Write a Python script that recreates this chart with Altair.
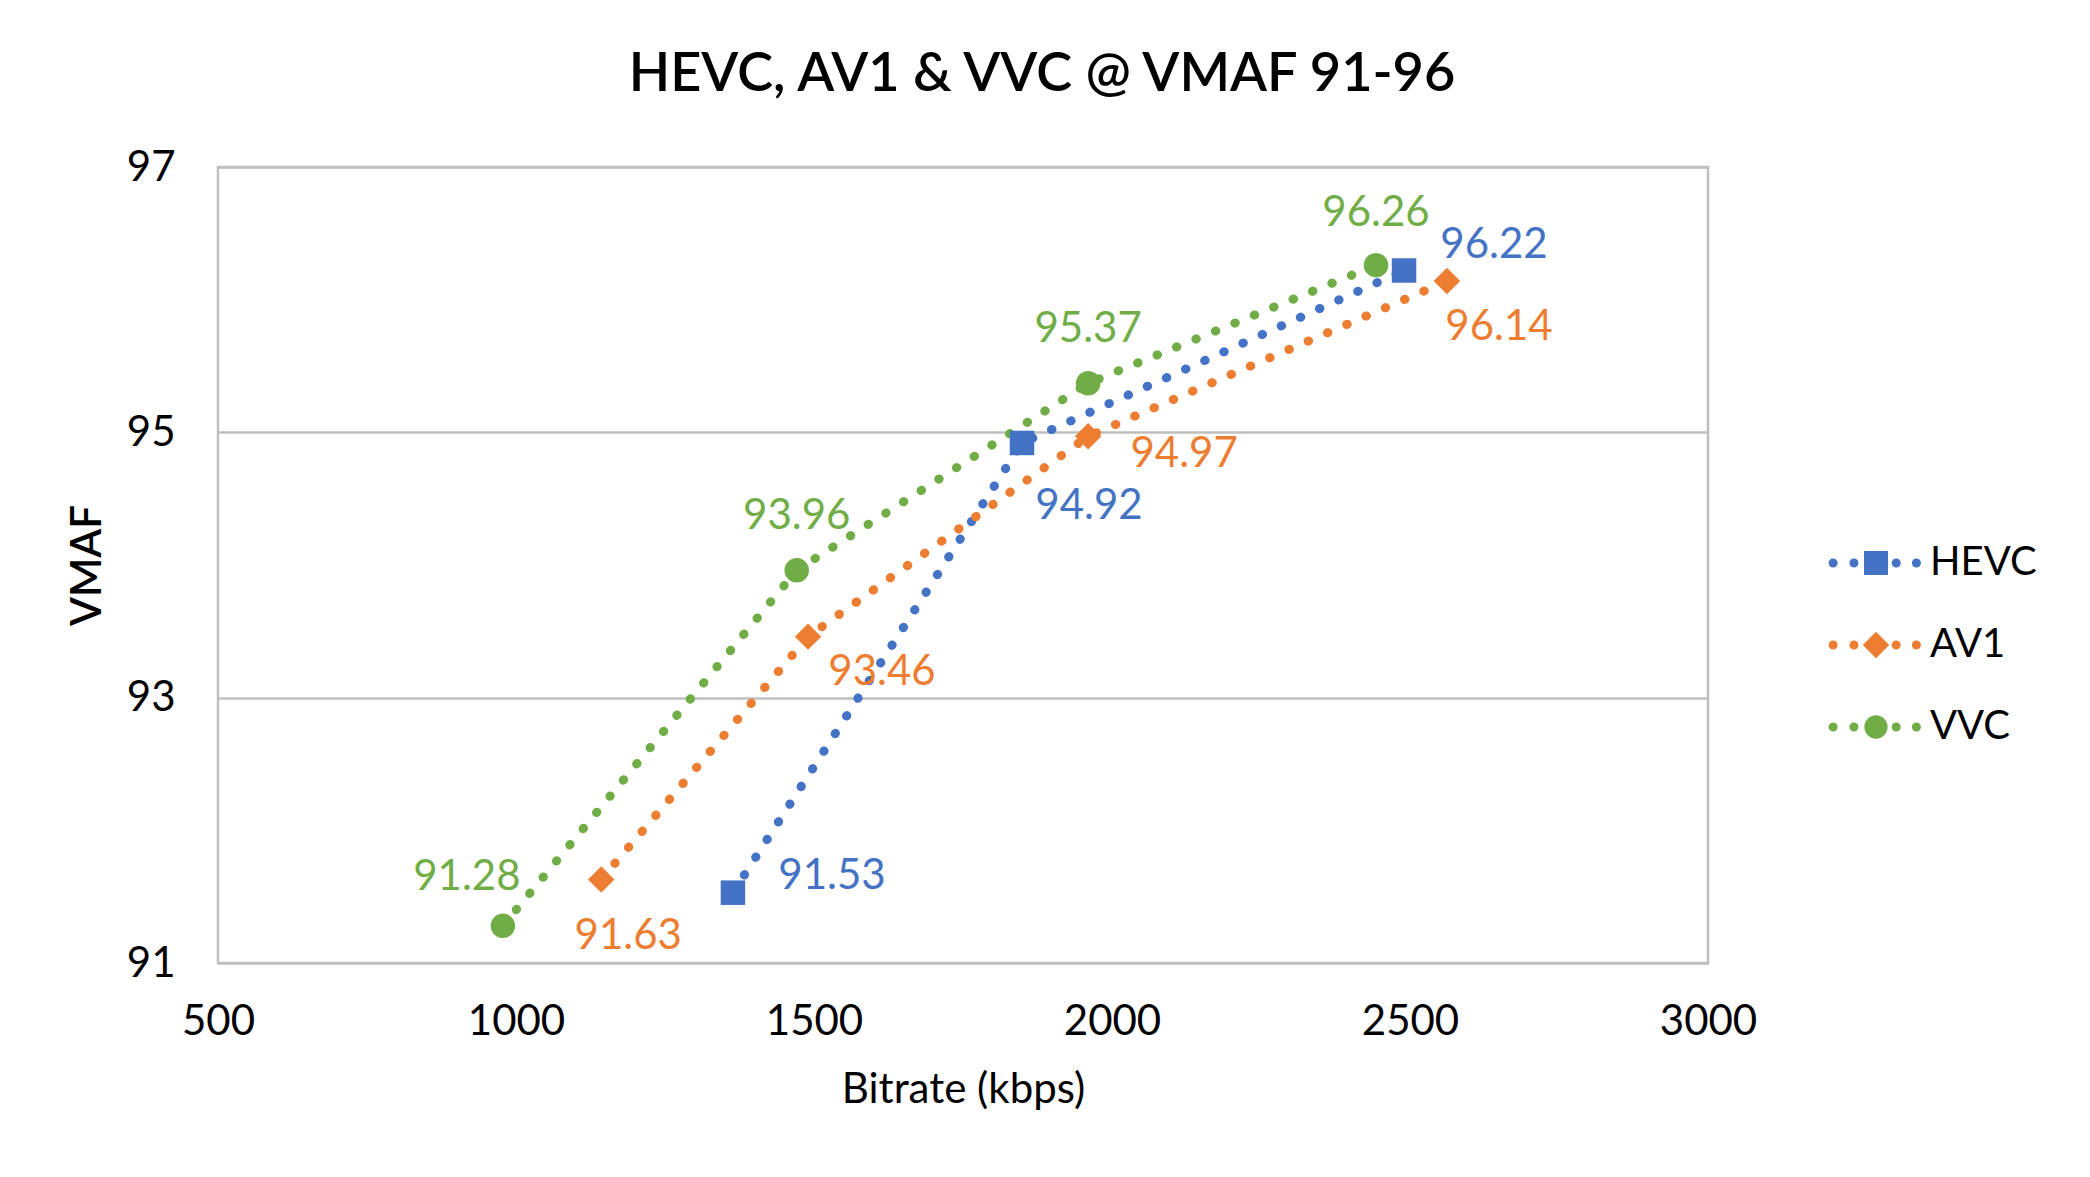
import altair as alt
import pandas as pd

# ---- data ----
series_names = ["HEVC", "AV1", "VVC"]
series_colors = ["#4472C4", "#ED7D31", "#70AD47"]

hevc_bitrate = [1364, 1849, 2490]
hevc_vmaf = [91.53, 94.92, 96.22]
av1_bitrate = [1143, 1490, 1960, 2562]
av1_vmaf = [91.63, 93.46, 94.97, 96.14]
vvc_bitrate = [978, 1471, 1960, 2443]
vvc_vmaf = [91.28, 93.96, 95.37, 96.26]

x_ticks = [500, 1000, 1500, 2000, 2500, 3000]
y_ticks = [91, 93, 95, 97]

# ---- styling (label placement offsets in px, like Excel's manual label positions) ----
label_offsets = {
    "HEVC": [(99, -17), (67, 63), (90, -25)],
    "AV1": [(27, 57), (74, 35), (96, 18), (52, 46)],
    "VVC": [(-36, -49), (0, -54), (0, -54), (0, -52)],
}
FONT = "Lato"
MARK_SIZE = 600

rows = []
for name, bx, vy in [("HEVC", hevc_bitrate, hevc_vmaf),
                     ("AV1", av1_bitrate, av1_vmaf),
                     ("VVC", vvc_bitrate, vvc_vmaf)]:
    for i, (b, v) in enumerate(zip(bx, vy)):
        rows.append({"series": name, "idx": i, "bitrate": b, "vmaf": v,
                     "label": f"{v:.2f}"})
df = pd.DataFrame(rows)

color_scale = alt.Scale(domain=series_names, range=series_colors)
x_enc = alt.X("bitrate:Q", scale=alt.Scale(domain=[500, 3000], nice=False),
              axis=alt.Axis(values=x_ticks, format="d", title="Bitrate (kbps)",
                            grid=False, labelPadding=38, labelFlush=False,
                            labelOverlap=False, titleY=139, titleX=745,
                            titleBaseline="alphabetic", titleFontWeight="normal"))
y_enc = alt.Y("vmaf:Q", scale=alt.Scale(domain=[91, 97], nice=False, zero=False),
              axis=alt.Axis(values=y_ticks, title="VMAF", grid=True,
                            labelPadding=43, labelFlush=False, labelOverlap=False,
                            titleX=-131, titleY=398,
                            titleAngle=-90, titleAlign="center",
                            titleBaseline="middle", titleFontWeight=600))

base = alt.Chart(df)

lines = base.mark_line(interpolate="linear", strokeWidth=9, strokeCap="round",
                       strokeDash=[0.5, 20.5]).encode(
    x=x_enc, y=y_enc,
    color=alt.Color("series:N", scale=color_scale, legend=None),
    detail="series:N",
    order="idx:Q",
)

point_shapes = [
    "M-1,-1H1V1H-1Z",
    "M0,-1.08L1.08,0L0,1.08L-1.08,0Z",
    "circle",
]
points = base.mark_point(filled=True, size=MARK_SIZE, opacity=1,
                         strokeWidth=0).encode(
    x=x_enc, y=y_enc,
    color=alt.Color("series:N", scale=color_scale, legend=None),
    shape=alt.Shape("series:N",
                    scale=alt.Scale(domain=series_names, range=point_shapes),
                    legend=None),
)

label_layers = []
for name in series_names:
    for i, (dx, dy) in enumerate(label_offsets[name]):
        label_layers.append(
            base.transform_filter(
                (alt.datum.series == name) & (alt.datum.idx == i)
            ).mark_text(dx=dx, dy=dy, fontSize=42, font=FONT, align="center",
                        baseline="middle").encode(
                x=x_enc, y=y_enc, text="label:N",
                color=alt.Color("series:N", scale=color_scale, legend=None),
            )
        )

main = alt.layer(lines, points, *label_layers)


# legend symbols: dotted line with the marker in the middle (custom SVG paths)
def dot(cx, r=0.37):
    return (f"M{cx - r},0A{r},{r} 0 1,0 {cx + r},0"
            f"A{r},{r} 0 1,0 {cx - r},0Z")


dots = "".join(dot(c) for c in (-3.5, -1.8, 1.65, 3.3))
legend_paths = [
    "M-0.98,-0.98H0.98V0.98H-0.98Z" + dots,
    "M0,-1.08L1.08,0L0,1.08L-1.08,0Z" + dots,
    "M-0.95,0A0.95,0.95 0 1,0 0.95,0A0.95,0.95 0 1,0 -0.95,0Z" + dots,
]
leg = alt.Legend(orient="none", legendX=1638, legendY=376, title=None,
                 symbolSize=MARK_SIZE, labelFontSize=40, labelFont=FONT,
                 labelOffset=34, rowPadding=42, padding=0,
                 symbolStrokeWidth=0, labelColor="#000000")
legend_layer = base.transform_filter("false").mark_point(
    filled=True, size=MARK_SIZE, opacity=1, strokeWidth=0).encode(
    x=x_enc, y=y_enc,
    color=alt.Color("series:N", scale=alt.Scale(domain=series_names,
                                                range=series_colors),
                    legend=leg, title=None),
    shape=alt.Shape("series:N", scale=alt.Scale(domain=series_names,
                                                range=legend_paths),
                    legend=leg, title=None),
)

chart = alt.layer(main, legend_layer).resolve_scale(
    color="independent", shape="independent"
).properties(
    width=1490, height=796,
    padding={"left": 210, "top": 159, "right": 360, "bottom": 190},
    autosize=alt.AutoSizeParams(type="none"),
    title=alt.TitleParams("HEVC, AV1 & VVC @ VMAF 91-96", fontSize=54,
                          font=FONT, fontWeight=600, anchor="middle",
                          frame="group", dx=79, offset=1,
                          baseline="alphabetic", color="#000000"),
).configure_view(
    stroke="#bfbfbf", strokeWidth=2.5
).configure_axis(
    domain=False, ticks=False, labelFont=FONT, labelFontSize=42,
    labelColor="#000000", titleFont=FONT, titleFontSize=42,
    titleColor="#000000", gridColor="#bfbfbf", gridWidth=2.5,
    gridOpacity=1,
)

chart.save("out.html", embed_options={"renderer": "svg", "actions": False})
